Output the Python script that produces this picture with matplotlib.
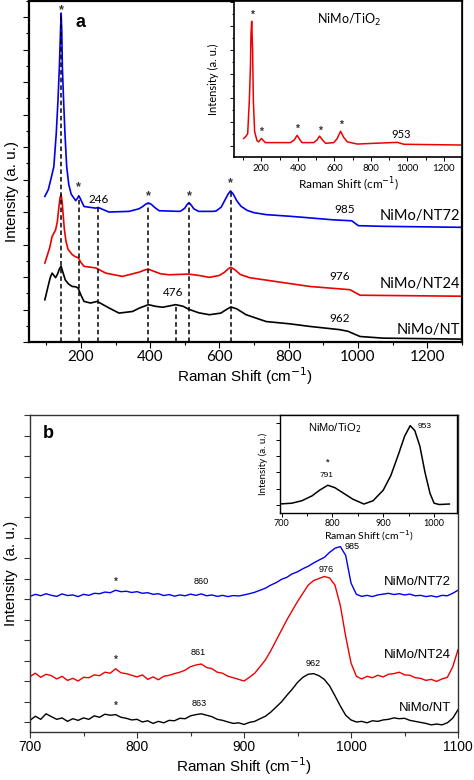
import numpy as np
import matplotlib
matplotlib.use("Agg")
import matplotlib.pyplot as plt
from matplotlib.ticker import MultipleLocator

plt.rcParams['font.family'] = ['Liberation Sans', 'DejaVu Sans']
CAL = ['Lato', 'DejaVu Sans']

# ---------- panel a: full range spectra ----------
nt72_x = [96, 106, 113, 122, 129, 134, 138, 141, 143, 145, 146.5, 150, 154, 159, 165, 172, 185, 190, 194, 198,
          209, 243, 250, 281, 339, 368, 380, 388, 395, 403, 412, 426, 484, 490, 500, 506, 512, 518, 526, 540,
          581, 590, 605, 615, 625, 632, 640, 650, 662, 680, 700, 735, 803, 861, 928, 982, 1001, 1072, 1296]
nt72_y = [4.48, 4.69, 4.99, 5.40, 6.43, 7.46, 8.48, 9.51, 10.12, 9.51, 8.48, 7.46, 6.43, 5.40, 4.85, 4.55, 4.35, 4.42, 4.50, 4.42,
          4.17, 4.12, 4.14, 4.00, 4.02, 4.10, 4.18, 4.25, 4.28, 4.24, 4.15, 4.04, 4.02, 4.04, 4.12, 4.22, 4.29, 4.22, 4.10, 4.02,
          4.02, 4.03, 4.15, 4.35, 4.55, 4.65, 4.55, 4.35, 4.18, 4.05, 3.98, 3.92, 3.87, 3.82, 3.76, 3.73, 3.58, 3.56, 3.53]

nt24_x = [96, 110, 117, 122, 127, 132, 136, 140, 143, 146, 149, 152, 157, 163, 175, 185, 192, 200, 209, 243,
          272, 320, 368, 385, 395, 410, 430, 455, 511, 540, 571, 600, 615, 625, 633, 645, 660, 687, 783, 861,
          977, 1006, 1296]
nt24_y = [2.43, 2.90, 3.25, 3.35, 3.45, 3.70, 4.10, 4.45, 4.53, 4.30, 3.90, 3.50, 3.10, 2.85, 2.69, 2.62, 2.60, 2.45, 2.33, 2.28,
          2.12, 2.02, 2.15, 2.22, 2.24, 2.18, 2.10, 2.07, 2.09, 2.05, 1.99, 2.05, 2.15, 2.25, 2.30, 2.22, 2.08, 1.98, 1.83, 1.71,
          1.61, 1.44, 1.41]

nt_x = [96, 105, 112, 117, 122, 127, 133, 138, 143, 148, 155, 165, 175, 185, 192, 200, 209, 228, 247, 281,
        310, 349, 370, 395, 415, 436, 474, 495, 511, 540, 571, 604, 620, 633, 650, 677, 735, 803, 861, 948,
        971, 1006, 1072, 1296]
nt_y = [1.30, 1.70, 2.00, 2.12, 2.05, 1.98, 2.10, 2.25, 2.33, 2.15, 1.91, 1.78, 1.71, 1.70, 1.66, 1.45, 1.25, 1.20, 1.25, 1.05,
        0.89, 0.94, 1.05, 1.15, 1.10, 1.07, 1.15, 1.10, 1.01, 0.90, 0.84, 0.89, 1.00, 1.08, 1.02, 0.84, 0.63, 0.56, 0.48, 0.38,
        0.33, 0.17, 0.12, 0.09]

dash_x = [143, 194, 250, 395, 476, 512, 632]
dash_top = [10.1, 4.5, 4.12, 4.26, 1.15, 4.29, 4.65]
star_a_x = [143, 194, 395, 512, 632]
star_a_y = [10.2, 4.75, 4.5, 4.5, 4.88]

# inset a: NiMo/TiO2
tio2_x = [103, 115, 125, 134, 140, 143, 147, 152, 156, 163, 176, 185, 200, 222, 359, 380, 396, 412, 423, 451,
          487, 505, 519, 535, 552, 597, 615, 634, 652, 671, 726, 817, 945, 982, 1293]
tio2_y = [0.31, 0.40, 0.51, 1.90, 3.28, 4.66, 5.19, 3.97, 1.90, 0.60, 0.22, 0.17, 0.31, 0.14, 0.14, 0.25, 0.44, 0.25, 0.14, 0.14,
          0.14, 0.25, 0.41, 0.25, 0.11, 0.14, 0.30, 0.61, 0.35, 0.17, 0.08, 0.11, 0.15, 0.07, 0.04]
star_i_x = [147, 200, 396, 519, 634]
star_i_y = [5.45, 0.6, 0.7, 0.65, 0.88]

# ---------- panel b: 700-1100 region ----------
b_x = np.arange(700, 1105, 5)
b_nt72 = [6.15, 6.25, 6.18, 6.28, 6.20, 6.15, 6.27, 6.19, 6.22, 6.14, 6.25, 6.20, 6.30, 6.28, 6.36, 6.33,
          6.45, 6.38, 6.40, 6.34, 6.38, 6.30, 6.33, 6.25, 6.28, 6.19, 6.24, 6.16, 6.22, 6.18, 6.26, 6.20,
          6.27, 6.18, 6.22, 6.15, 6.20, 6.14, 6.19, 6.17, 6.22, 6.28, 6.35, 6.45, 6.55, 6.70, 6.82, 6.98,
          7.08, 7.25, 7.35, 7.50, 7.62, 7.78, 7.92, 8.05, 8.30, 8.50, 8.58, 8.15, 6.80, 6.25, 6.15, 6.20,
          6.14, 6.22, 6.26, 6.30, 6.24, 6.28, 6.22, 6.26, 6.18, 6.20, 6.14, 6.18, 6.12, 6.20, 6.18, 6.30, 6.45]
b_nt24 = [2.24, 2.40, 2.20, 2.35, 2.28, 2.12, 2.25, 2.05, 2.15, 2.02, 2.20, 2.18, 2.32, 2.28, 2.45, 2.40,
          2.62, 2.42, 2.38, 2.30, 2.22, 2.32, 2.10, 2.22, 2.08, 2.25, 2.30, 2.38, 2.45, 2.55, 2.72, 2.80,
          2.85, 2.68, 2.62, 2.45, 2.40, 2.25, 2.18, 2.10, 2.02, 2.20, 2.40, 2.72, 3.05, 3.50, 4.00, 4.50,
          5.00, 5.45, 5.90, 6.30, 6.70, 6.92, 7.02, 7.12, 7.05, 6.70, 5.70, 4.20, 2.90, 2.25, 2.12, 2.25,
          2.18, 2.30, 2.22, 2.35, 2.38, 2.45, 2.32, 2.30, 2.18, 2.15, 2.05, 2.10, 2.00, 2.12, 2.20, 2.70, 3.55]
b_nt = [0.10, 0.30, 0.15, 0.42, 0.28, 0.15, 0.22, 0.05, 0.18, 0.10, 0.22, 0.15, 0.32, 0.25, 0.40, 0.35,
        0.38, 0.25, 0.20, 0.12, 0.15, 0.02, 0.08, -0.05, 0.05, -0.02, 0.10, 0.08, 0.20, 0.18, 0.32, 0.38,
        0.42, 0.35, 0.28, 0.15, 0.10, 0.02, -0.05, -0.02, -0.10, 0.00, 0.05, 0.18, 0.30, 0.50, 0.75, 1.00,
        1.32, 1.62, 1.95, 2.20, 2.35, 2.38, 2.28, 2.10, 1.78, 1.30, 0.80, 0.35, 0.12, 0.02, 0.05, -0.02,
        0.08, 0.05, 0.12, 0.15, 0.22, 0.18, 0.20, 0.10, 0.05, 0.00, -0.05, -0.12, -0.08, -0.12, -0.02, 0.20, 0.62]

# inset b: NiMo/TiO2
tio2b_x = [700, 720, 740, 760, 775, 791, 805, 820, 840, 862, 880, 900, 915, 930, 942, 953, 962, 972, 982, 992, 1000, 1010, 1030]
tio2b_y = [0.06, 0.10, 0.25, 0.55, 0.90, 1.20, 1.05, 0.75, 0.35, 0.05, 0.25, 0.90, 1.80, 3.10, 4.20, 4.85, 4.55, 3.60, 2.00, 0.70, 0.10, 0.02, 0.05]

fig = plt.figure(figsize=(4.74, 7.80), dpi=100)

# ---- panel a ----
ax = fig.add_axes([0.061, 0.5615, 0.9135, 0.4375])
ax.plot(nt72_x, nt72_y, color='#0000ee', lw=1.2)
ax.plot(nt24_x, nt24_y, color='#ee0000', lw=1.2)
ax.plot(nt_x, nt_y, color='black', lw=1.2)
for xv, top in zip(dash_x, dash_top):
    ax.plot([xv, xv], [0, top], color='black', ls=(0, (3, 2)), lw=1.1)
for xv, yv in zip(star_a_x, star_a_y):
    ax.text(xv, yv, '*', ha='center', va='center', fontsize=9, fontweight='bold', color='#333333')
ax.text(252, 4.38, '246', ha='center', va='center', fontsize=8.5, family=CAL)
ax.text(467, 1.52, '476', ha='center', va='center', fontsize=8.5, family=CAL)
ax.text(962, 4.07, '985', ha='center', va='center', fontsize=8.5, family=CAL)
ax.text(948, 2.02, '976', ha='center', va='center', fontsize=8.5, family=CAL)
ax.text(948, 0.72, '962', ha='center', va='center', fontsize=8.5, family=CAL)
ax.text(1296, 3.87, 'NiMo/NT72', ha='right', va='center', fontsize=10.5, family=CAL)
ax.text(1296, 1.79, 'NiMo/NT24', ha='right', va='center', fontsize=10.5, family=CAL)
ax.text(1296, 0.38, 'NiMo/NT', ha='right', va='center', fontsize=10.5, family=CAL)
ax.text(0.12, 0.936, 'a', transform=ax.transAxes, fontsize=13, fontweight='bold', ha='center', va='center')
ax.set_xlim(50, 1300)
ax.set_ylim(0, 10.5)
ax.xaxis.set_major_locator(MultipleLocator(200))
ax.xaxis.set_minor_locator(MultipleLocator(100))
ax.yaxis.set_major_locator(MultipleLocator(1))
ax.yaxis.set_minor_locator(MultipleLocator(0.5))
ax.set_yticklabels([])
ax.tick_params(which='both', direction='out', width=0.8)
ax.tick_params(which='major', length=4)
ax.tick_params(which='minor', length=2.5)
ax.tick_params(axis='x', labelsize=11, pad=2)
for lab in ax.get_xticklabels():
    lab.set_family(CAL)
for s in ax.spines.values():
    s.set_linewidth(1.6)
ax.set_xlabel('Raman Shift (cm$^{-1}$)', fontsize=11, labelpad=1)
ax.set_ylabel('Intensity (a. u.)', fontsize=11)
ax.yaxis.set_label_coords(-0.024, 0.44)

# ---- inset a ----
ia = fig.add_axes([0.4937, 0.7987, 0.481, 0.2005])
ia.plot(tio2_x, tio2_y, color='#ee0000', lw=1.1)
for xv, yv in zip(star_i_x, star_i_y):
    ia.text(xv, yv, '*', ha='center', va='center', fontsize=7.5, fontweight='bold', color='#333333')
ia.text(964, 0.47, '953', ha='center', va='center', fontsize=8, family=CAL)
ia.text(678, 5.26, 'NiMo/TiO$_2$', ha='center', va='center', fontsize=9, family=CAL)
ia.set_xlim(50, 1300)
ia.set_ylim(-0.46, 6.05)
ia.xaxis.set_major_locator(MultipleLocator(200))
ia.xaxis.set_minor_locator(MultipleLocator(100))
ia.yaxis.set_major_locator(MultipleLocator(1))
ia.yaxis.set_minor_locator(MultipleLocator(0.5))
ia.set_yticklabels([])
ia.tick_params(which='both', direction='out', width=0.7)
ia.tick_params(which='major', length=3)
ia.tick_params(which='minor', length=1.8)
ia.tick_params(axis='x', labelsize=7, pad=2)
for lab in ia.get_xticklabels():
    lab.set_family(CAL)
for s in ia.spines.values():
    s.set_linewidth(1.2)
ia.set_xlabel('Raman Shift (cm$^{-1}$)', fontsize=8.5, family=CAL, labelpad=2)
ia.set_ylabel('Intensity (a. u.)', fontsize=8, family=CAL, labelpad=4)

# ---- panel b ----
bx = fig.add_axes([0.0633, 0.0615, 0.903, 0.4064])
bx.plot(b_x, b_nt72, color='#0000ee', lw=1.0)
bx.plot(b_x, b_nt24, color='#ee0000', lw=1.0)
bx.plot(b_x, b_nt, color='black', lw=1.0)
for yv in [6.88, 3.06, 0.81]:
    bx.text(780, yv, '*', ha='center', va='center', fontsize=7, fontweight='bold', color='#333333')
bx.text(860, 6.88, '860', ha='center', va='center', fontsize=6.5)
bx.text(857, 3.43, '861', ha='center', va='center', fontsize=6.5)
bx.text(858, 0.94, '863', ha='center', va='center', fontsize=6.5)
bx.text(1001, 8.59, '985', ha='center', va='center', fontsize=6.5)
bx.text(977, 7.45, '976', ha='center', va='center', fontsize=6.5)
bx.text(965, 2.86, '962', ha='center', va='center', fontsize=6.5)
bx.text(1093.5, 6.86, 'NiMo/NT72', ha='right', va='center', fontsize=9.5)
bx.text(1093.5, 3.3, 'NiMo/NT24', ha='right', va='center', fontsize=9.5)
bx.text(1093.5, 0.7, 'NiMo/NT', ha='right', va='center', fontsize=9.5)
bx.text(0.042, 0.943, 'b', transform=bx.transAxes, fontsize=13, fontweight='bold', ha='center', va='center')
bx.set_xlim(700, 1100)
bx.set_ylim(-0.47, 15.0)
bx.xaxis.set_major_locator(MultipleLocator(100))
bx.xaxis.set_minor_locator(MultipleLocator(50))
bx.yaxis.set_major_locator(MultipleLocator(1))
bx.set_yticklabels([])
bx.tick_params(which='both', direction='out', width=0.8, colors='#333333')
bx.tick_params(which='major', length=4)
bx.tick_params(which='minor', length=3)
bx.tick_params(axis='x', labelsize=10, pad=2, labelcolor='black')
for s in bx.spines.values():
    s.set_linewidth(1.0)
    s.set_color('#333333')
bx.set_xlabel('Raman Shift (cm$^{-1}$)', fontsize=11, labelpad=1)
bx.set_ylabel('Intensity  (a. u.)', fontsize=11)
bx.yaxis.set_label_coords(-0.028, 0.50)

# ---- inset b ----
ib = fig.add_axes([0.5907, 0.3423, 0.3734, 0.1256])
ib.plot(tio2b_x, tio2b_y, color='black', lw=1.1)
ib.text(805, 4.71, 'NiMo/TiO$_2$', ha='center', va='center', fontsize=8)
ib.text(981, 4.8, '953', ha='center', va='center', fontsize=6)
ib.text(791, 2.65, '*', ha='center', va='center', fontsize=6.5, fontweight='bold', color='#333333')
ib.text(788, 1.78, '791', ha='center', va='center', fontsize=6)
ib.set_xlim(697, 1045)
ib.set_ylim(-0.5, 5.5)
ib.xaxis.set_major_locator(MultipleLocator(100))
ib.xaxis.set_minor_locator(MultipleLocator(50))
ib.yaxis.set_major_locator(MultipleLocator(1))
ib.set_yticklabels([])
ib.tick_params(which='both', direction='out', width=0.7)
ib.tick_params(which='major', length=3)
ib.tick_params(which='minor', length=2)
ib.tick_params(axis='x', labelsize=6.5, pad=1.5)
for lab in ib.get_xticklabels():
    lab.set_family(CAL)
for s in ib.spines.values():
    s.set_linewidth(1.0)
ib.set_xlabel('Raman Shift (cm$^{-1}$)', fontsize=7.5, family=CAL, labelpad=0)
ib.set_ylabel('Intensity (a. u.)', fontsize=7, family=CAL, labelpad=2)

fig.savefig('out.png', dpi=100)
